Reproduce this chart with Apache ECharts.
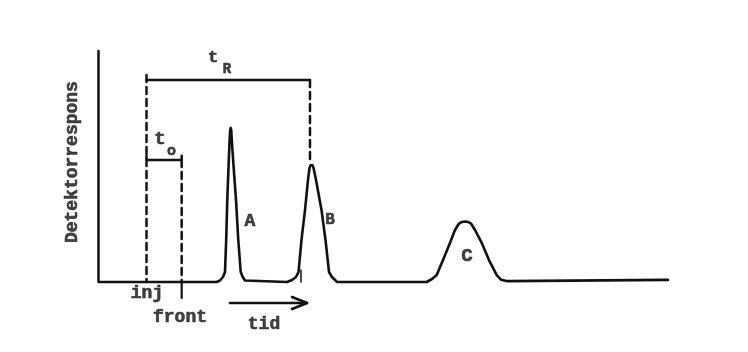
<!DOCTYPE html>
<html>
<head>
<meta charset="utf-8">
<script src="https://cdn.jsdelivr.net/npm/echarts@6/dist/echarts.min.js"></script>
<style>html,body{margin:0;padding:0;background:#fff}#c{width:748px;height:352px}</style>
</head>
<body>
<div id="c"></div>
<script>
// ---- data (time in arbitrary units, detector response 0-100) ----
const peakA = [[2.082,0],[2.140,0.65],[2.193,2.16],[2.228,4.33],[2.249,18.2],[2.268,35.5],[2.291,50.6],[2.309,61.5],[2.319,65.6],[2.328,66.7],[2.338,65.6],[2.347,61.5],[2.377,50.6],[2.421,35.5],[2.461,18.2],[2.504,4.33],[2.539,2.16],[2.579,0.65],[2.609,0]];
const peakB = [[3.316,0],[3.404,0.87],[3.474,2.16],[3.518,4.33],[3.570,18.2],[3.632,31.2],[3.684,44.2],[3.711,49.4],[3.728,50.5],[3.746,50.7],[3.764,50.5],[3.781,49.4],[3.825,44.2],[3.921,31.2],[3.991,18.2],[4.053,4.33],[4.105,2.16],[4.158,0.87],[4.193,0]];
const peakC = [[5.767,0],[5.860,1.3],[5.942,3.0],[6.053,9.5],[6.175,16.9],[6.263,22.5],[6.333,25.3],[6.386,26.0],[6.439,26.2],[6.491,26.0],[6.544,25.3],[6.614,22.5],[6.732,16.9],[6.860,9.5],[6.995,3.0],[7.070,1.0],[7.170,0.4]];
const baselineStart = [0.03, 0];
const baselineEnd = [10, 0.9];

const injTime = 0.851;
const frontTime = 1.468;
const retentionB = 3.719;
const injTop = 89.6;
const tRLevel = 87.4;
const t0Level = 52.8;
const t0Tick = 54.6;
const frontTickBottom = -6.9;
const peakBTick = [3.561, 5.2];
const arrowY = -9.1;
const arrowStart = 2.316, arrowEnd = 3.667;
const arrowHead = [[3.404,-6.5],[3.667,-9.1],[3.404,-11.7]];

// text labels: [text, x, y, id]
const labels = [
  ['Detektorrespons', -0.447, 51.9, 'ylab'],
  ['t', 2.018, 97.0, 'tR_t'],
  ['R', 2.263, 91.8, 'tR_R'],
  ['t', 1.088, 61.9, 't0_t'],
  ['o', 1.289, 56.7, 't0_o'],
  ['A', 2.667, 26.4, 'A'],
  ['B', 4.070, 26.8, 'B'],
  ['C', 6.474, 11.3, 'C'],
  ['inj', 0.860, -4.8, 'inj'],
  ['front', 1.439, -15.2, 'front'],
  ['tid', 2.912, -18.6, 'tid']
];

// ---- styles ----
const INK = '#111';
const FONT = '"Liberation Mono", "DejaVu Sans Mono", monospace';
const labelStyle = {
  ylab: {fontSize: 18, rotate: 90},
  tR_t: {fontSize: 17}, tR_R: {fontSize: 14},
  t0_t: {fontSize: 19}, t0_o: {fontSize: 15},
  A: {fontSize: 18}, B: {fontSize: 16}, C: {fontSize: 19},
  inj: {fontSize: 18}, front: {fontSize: 18}, tid: {fontSize: 18}
};

function lineSeries(data, opts) {
  opts = opts || {};
  return {
    type: 'line', data: data, symbol: 'none', clip: false, silent: true,
    animation: false, smooth: false,
    lineStyle: {color: INK, width: opts.width || 2.5, type: opts.dash || 'solid', cap: 'round', join: 'round'},
    z: opts.z || 2
  };
}

const chromatogram = [baselineStart].concat(peakA, peakB, peakC, [baselineEnd]);

const chart = echarts.init(document.getElementById('c'), null, {renderer: 'canvas'});
chart.setOption({
  backgroundColor: '#fff',
  animation: false,
  grid: {left: 98, right: 80, top: 51, bottom: 70, containLabel: false},
  xAxis: {type: 'value', min: 0, max: 10, axisLine: {show: false}, axisTick: {show: false}, axisLabel: {show: false}, splitLine: {show: false}},
  yAxis: {type: 'value', min: 0, max: 100, axisLine: {show: true, lineStyle: {color: INK, width: 2.5}}, axisTick: {show: false}, axisLabel: {show: false}, splitLine: {show: false}},
  series: [
    lineSeries(chromatogram, {width: 2.6, z: 3}),
    lineSeries([[injTime, injTop], [injTime, 0]], {dash: [7, 5]}),
    lineSeries([[frontTime, t0Level], [frontTime, 0]], {dash: [7, 5]}),
    lineSeries([[retentionB, tRLevel], [retentionB, 51.5]], {dash: [7, 5]}),
    lineSeries([[injTime, tRLevel], [retentionB, tRLevel]], {width: 2.5}),
    lineSeries([[injTime, t0Tick], [injTime, t0Level], [frontTime, t0Level], [frontTime, t0Tick]], {width: 2.5}),
    lineSeries([[frontTime, 0], [frontTime, frontTickBottom]], {width: 2.2}),
    lineSeries([[peakBTick[0], 0], peakBTick], {width: 1.5}),
    lineSeries([[arrowStart, arrowY], [arrowEnd, arrowY]], {width: 2.6}),
    lineSeries(arrowHead, {width: 2.6}),
    {
      type: 'scatter', clip: false, silent: true, animation: false, symbolSize: 2,
      itemStyle: {color: 'rgba(255,255,255,0)'},
      data: labels.map(l => ({
        value: [l[1], l[2]], name: l[0],
        label: Object.assign({}, labelStyle[l[3]])
      })),
      label: {show: true, position: 'inside', formatter: p => p.name, color: INK, fontFamily: FONT, fontWeight: 'bold',
              textBorderColor: INK, textBorderWidth: 0.6, align: 'center', verticalAlign: 'middle'},
      labelLayout: {hideOverlap: false},
      z: 5
    }
  ]
});
</script>
</body>
</html>
